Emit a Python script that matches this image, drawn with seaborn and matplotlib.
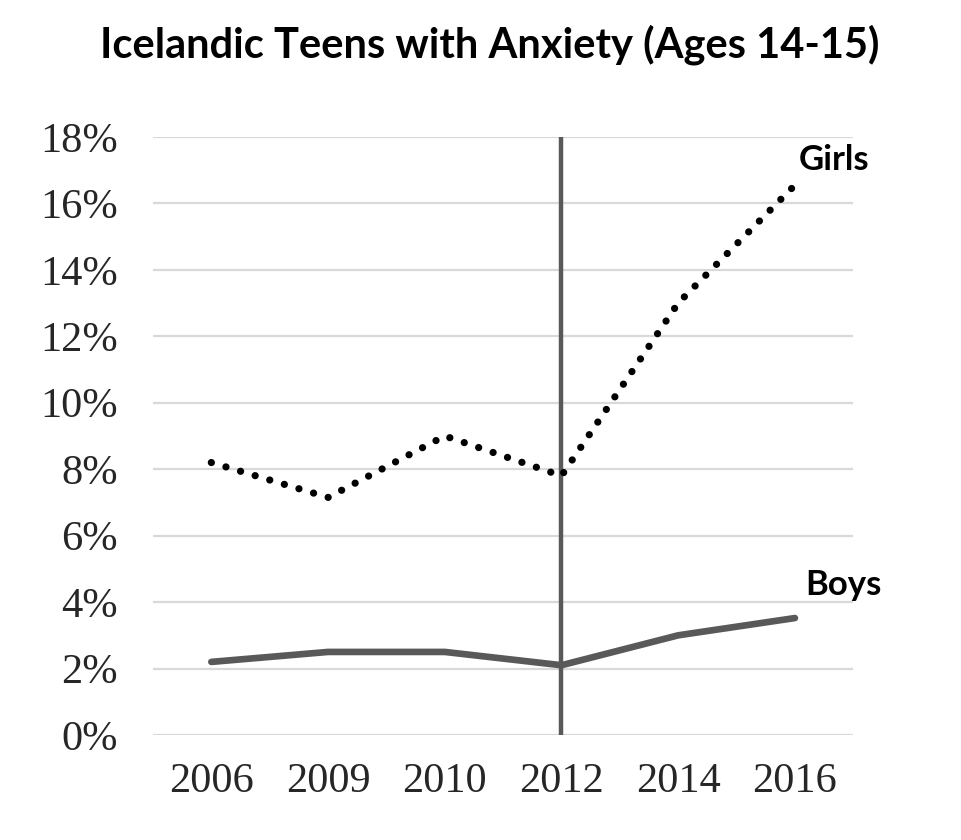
import pandas as pd
import seaborn as sns
import matplotlib.pyplot as plt

years = ["2006", "2009", "2010", "2012", "2014", "2016"]
girls = [8.2, 7.15, 9.0, 7.8, 13.0, 16.55]
boys = [2.2, 2.5, 2.5, 2.1, 3.0, 3.52]
y_ticks = [0, 2, 4, 6, 8, 10, 12, 14, 16, 18]

df = pd.DataFrame({"year": years, "Girls": girls, "Boys": boys})

sns.set_theme(style="white")
plt.rcParams['font.family'] = ['Liberation Serif', 'DejaVu Serif']

fig = plt.figure(figsize=(9.62, 8.4), dpi=100)
ax = fig.add_axes([0.159, 0.125, 0.728, 0.712])

# grid lines
for t in y_ticks:
    ax.axhline(t, color="#d9d9d9", lw=1.6, zorder=0)

# 2012 marker line
ax.axvline(years.index("2012"), color="#595959", lw=3.2, zorder=1)

sns.lineplot(data=df, x="year", y="Boys", ax=ax, color="#595959", lw=4.8,
             solid_capstyle="round", zorder=2)
sns.lineplot(data=df, x="year", y="Girls", ax=ax, color="black", lw=5.2,
             linestyle=(0, (0.01, 2.1)), dash_capstyle="round", zorder=3)

ax.set_xlim(-0.5, 5.5)
ax.set_ylim(0, 18)
ax.set_yticks(y_ticks)
ax.set_yticklabels([f"{t}%" for t in y_ticks])
ax.set_xlabel("")
ax.set_ylabel("")
ax.tick_params(axis="both", length=0, labelsize=30.5, labelcolor="#262626")
ax.tick_params(axis="y", pad=25)
ax.tick_params(axis="x", pad=20)
for s in ax.spines.values():
    s.set_visible(False)

ax.text(5.03, 17.3, "Girls", fontsize=25, fontweight="bold", family="Lato",
        color="black", va="center", ha="left")
ax.text(5.09, 4.5, "Boys", fontsize=25, fontweight="bold", family="Lato",
        color="black", va="center", ha="left")

fig.text(0.509, 0.947, "Icelandic Teens with Anxiety (Ages 14-15)", fontsize=30,
         fontweight="bold", family="Lato", color="black", ha="center", va="center")

fig.savefig("out.png", dpi=100, facecolor="white")
